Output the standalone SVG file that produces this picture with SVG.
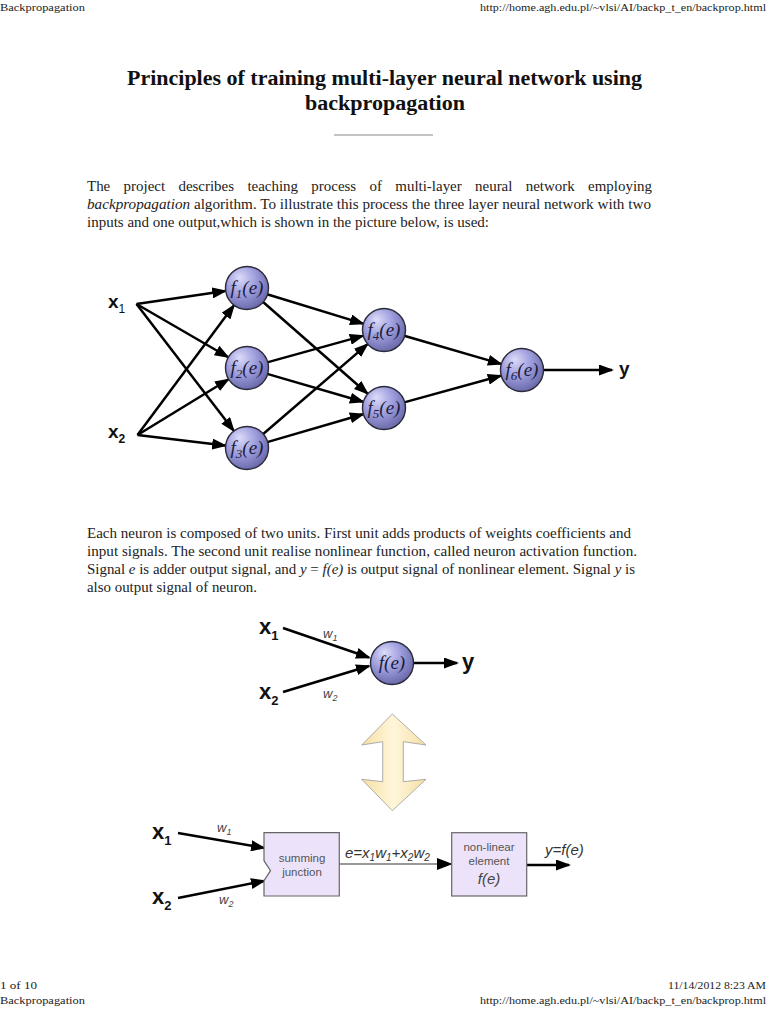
<svg xmlns="http://www.w3.org/2000/svg" width="768" height="1024" viewBox="0 0 768 1024">
<style>
.hd{font-family:"Liberation Serif",serif;font-size:11px;fill:#222;}
.ttl{font-family:"Liberation Serif",serif;font-size:20px;font-weight:bold;fill:#111;}
.body{font-family:"Liberation Serif",serif;font-size:14px;fill:#222;}
.it{font-style:italic;}
.xl{font-family:"Liberation Sans",Arial,sans-serif;font-weight:bold;font-size:22px;fill:#111;}
.xl1{font-family:"Liberation Sans",Arial,sans-serif;font-weight:bold;font-size:19px;fill:#111;}
.xs{font-size:12px;}
.xsb{font-size:13px;}
.fn{font-family:"Liberation Serif",serif;font-style:italic;font-size:19px;fill:#1c1c3c;}
.fs{font-size:13px;}
.neuron{fill:url(#ng);stroke:#2a2a3a;stroke-width:1.4;}
.edge{stroke:#000;stroke-width:2.5;fill:none;marker-end:url(#ah);}
.thin{stroke:#777;stroke-width:1.3;fill:none;marker-end:url(#ah2);}
.wl{font-family:"Liberation Sans",Arial,sans-serif;font-style:italic;font-size:13px;fill:#444;}
.ws{font-size:9px;}
.bx{fill:#ece3fa;stroke:#666;stroke-width:1.2;}
.bt{font-family:"Liberation Sans",Arial,sans-serif;font-size:11.5px;fill:#555;text-anchor:middle;}
.bf{font-family:"Liberation Sans",Arial,sans-serif;font-size:15px;font-style:italic;fill:#444;text-anchor:middle;}
.eq{font-family:"Liberation Sans",Arial,sans-serif;font-style:italic;font-size:15px;fill:#333;}
.es{font-size:10px;}
</style>
<defs>
<radialGradient id="ng" cx="40%" cy="35%" r="65%" fx="32%" fy="25%">
<stop offset="0" stop-color="#dcdcfa"/>
<stop offset="0.55" stop-color="#9c9cdc"/>
<stop offset="1" stop-color="#6c6cac"/>
</radialGradient>
<linearGradient id="yg" x1="0" y1="0" x2="1" y2="0">
<stop offset="0" stop-color="#f6dfa6"/>
<stop offset="0.5" stop-color="#fff6da"/>
<stop offset="1" stop-color="#f6dfa6"/>
</linearGradient>
<marker id="ah" markerUnits="userSpaceOnUse" markerWidth="15" markerHeight="11" refX="13" refY="5.5" orient="auto">
<path d="M0,0 L15,5.5 L0,11 z" fill="#000"/>
</marker>
<marker id="ah2" markerUnits="userSpaceOnUse" markerWidth="16" markerHeight="12" refX="15" refY="6" orient="auto">
<path d="M0,0 L16,6 L0,12 z" fill="#000"/>
</marker>
</defs>
<rect width="768" height="1024" fill="#fff"/>

<!-- page header / footer -->
<text class="hd" x="0" y="11" textLength="85" lengthAdjust="spacingAndGlyphs">Backpropagation</text>
<text class="hd" x="766" y="11" text-anchor="end" textLength="286" lengthAdjust="spacingAndGlyphs">http://home.agh.edu.pl/~vlsi/AI/backp_t_en/backprop.html</text>
<text class="hd" x="0" y="989" textLength="37" lengthAdjust="spacingAndGlyphs">1 of 10</text>
<text class="hd" x="766" y="989" text-anchor="end" textLength="98" lengthAdjust="spacingAndGlyphs">11/14/2012 8:23 AM</text>
<text class="hd" x="0" y="1004" textLength="85" lengthAdjust="spacingAndGlyphs">Backpropagation</text>
<text class="hd" x="766" y="1004" text-anchor="end" textLength="286" lengthAdjust="spacingAndGlyphs">http://home.agh.edu.pl/~vlsi/AI/backp_t_en/backprop.html</text>

<!-- title -->
<text class="ttl" x="127" y="85" textLength="515" lengthAdjust="spacingAndGlyphs">Principles of training multi-layer neural network using</text>
<text class="ttl" x="305" y="110" textLength="160" lengthAdjust="spacingAndGlyphs">backpropagation</text>
<line x1="334" y1="135" x2="433" y2="135" stroke="#888" stroke-width="1"/>

<!-- paragraph 1 -->
<text class="body" x="87" y="191" word-spacing="9" textLength="565" lengthAdjust="spacingAndGlyphs">The project describes teaching process of multi-layer neural network employing</text>
<text class="body" x="87" y="209" textLength="564" lengthAdjust="spacingAndGlyphs"><tspan class="it">backpropagation</tspan> algorithm. To illustrate this process the three layer neural network with two</text>
<text class="body" x="87" y="227" textLength="402" lengthAdjust="spacingAndGlyphs">inputs and one output,which is shown in the picture below, is used:</text>

<!-- paragraph 2 -->
<text class="body" x="87" y="538" textLength="544" lengthAdjust="spacingAndGlyphs">Each neuron is composed of two units. First unit adds products of weights coefficients and</text>
<text class="body" x="87" y="556" textLength="550" lengthAdjust="spacingAndGlyphs">input signals. The second unit realise nonlinear function, called neuron activation function.</text>
<text class="body" x="87" y="574" textLength="548" lengthAdjust="spacingAndGlyphs">Signal <tspan class="it">e</tspan> is adder output signal, and <tspan class="it">y</tspan> = <tspan class="it">f(e)</tspan> is output signal of nonlinear element. Signal <tspan class="it">y</tspan> is</text>
<text class="body" x="87" y="592" textLength="170" lengthAdjust="spacingAndGlyphs">also output signal of neuron.</text>

<!-- ===== Diagram 1: network ===== -->
<g id="net-connectors">
<line class="edge" x1="136.5" y1="304" x2="225.2" y2="291.1"/>
<line class="edge" x1="136.5" y1="304" x2="227.9" y2="357.0"/>
<line class="edge" x1="136.5" y1="304" x2="233.6" y2="430.6"/>
<line class="edge" x1="137.5" y1="435" x2="233.8" y2="305.6"/>
<line class="edge" x1="137.5" y1="435" x2="228.2" y2="379.5"/>
<line class="edge" x1="137.5" y1="435" x2="225.1" y2="445.6"/>
<line class="edge" x1="267.1" y1="294.2" x2="363.0" y2="323.6"/>
<line class="edge" x1="262.8" y1="301.8" x2="367.4" y2="393.5"/>
<line class="edge" x1="267.2" y1="362.4" x2="362.8" y2="335.9"/>
<line class="edge" x1="267.2" y1="373.9" x2="362.9" y2="401.8"/>
<line class="edge" x1="262.9" y1="434.3" x2="367.3" y2="344.4"/>
<line class="edge" x1="267.2" y1="442.1" x2="362.9" y2="414.2"/>
<line class="edge" x1="404.2" y1="335.8" x2="500.9" y2="363.9"/>
<line class="edge" x1="404.2" y1="402.4" x2="500.8" y2="375.8"/>
<line class="edge" x1="543.5" y1="370" x2="612" y2="370"/>
</g>
<g id="in-x1"><text class="xl1" x="108" y="308">x<tspan class="xs" font-weight="normal" dy="5">1</tspan></text></g>
<g id="in-x2"><text class="xl1" x="108" y="438">x<tspan class="xs" dy="5">2</tspan></text></g>
<g id="out-y"><text class="xl1" x="619" y="375">y</text></g>
<g id="f1"><circle class="neuron" cx="247" cy="288" r="21.5"/><text class="fn" x="247" y="294" text-anchor="middle">f<tspan class="fs" dy="4">1</tspan><tspan dy="-4">(e)</tspan></text></g>
<g id="f2"><circle class="neuron" cx="247" cy="368" r="21.5"/><text class="fn" x="247" y="374" text-anchor="middle">f<tspan class="fs" dy="4">2</tspan><tspan dy="-4">(e)</tspan></text></g>
<g id="f3"><circle class="neuron" cx="247" cy="448" r="21.5"/><text class="fn" x="247" y="454" text-anchor="middle">f<tspan class="fs" dy="4">3</tspan><tspan dy="-4">(e)</tspan></text></g>
<g id="f4"><circle class="neuron" cx="384" cy="330" r="21.5"/><text class="fn" x="384" y="336" text-anchor="middle">f<tspan class="fs" dy="4">4</tspan><tspan dy="-4">(e)</tspan></text></g>
<g id="f5"><circle class="neuron" cx="384" cy="408" r="21.5"/><text class="fn" x="384" y="414" text-anchor="middle">f<tspan class="fs" dy="4">5</tspan><tspan dy="-4">(e)</tspan></text></g>
<g id="f6"><circle class="neuron" cx="522" cy="370" r="21.5"/><text class="fn" x="522" y="376" text-anchor="middle">f<tspan class="fs" dy="4">6</tspan><tspan dy="-4">(e)</tspan></text></g>

<!-- ===== Diagram 2: single neuron ===== -->
<g id="neuron-connectors">
<line class="edge" x1="283" y1="628" x2="369" y2="657.5"/>
<line class="edge" x1="283" y1="692" x2="369" y2="666"/>
<line class="edge" x1="413.5" y1="663" x2="457" y2="663"/>
</g>
<g id="n-x1"><text class="xl" x="259" y="634">x<tspan class="xsb" dy="6">1</tspan></text></g>
<g id="n-x2"><text class="xl" x="259" y="699">x<tspan class="xsb" dy="6">2</tspan></text></g>
<g id="n-w"><text class="wl" x="323" y="638">w<tspan class="ws" dy="3">1</tspan></text><text class="wl" x="323" y="698">w<tspan class="ws" dy="3">2</tspan></text></g>
<g id="n-f"><circle class="neuron" cx="392" cy="663" r="21.5"/><text class="fn" x="392" y="669" text-anchor="middle">f(e)</text></g>
<g id="n-y"><text class="xl" x="462" y="669">y</text></g>

<!-- double arrow -->
<g id="equiv-arrow">
<polygon points="392.3,714 426,745 403.3,741.7 403.3,781.7 426,779.3 392.3,810.7 361.7,779.3 382.7,781.7 382.7,741.7 361.7,745" fill="url(#yg)" stroke="#999" stroke-width="0.8"/>
</g>

<!-- ===== Diagram 3: block model ===== -->
<g id="block-connectors">
<line class="edge" x1="178" y1="833" x2="264" y2="848"/>
<line class="edge" x1="178" y1="898" x2="264" y2="881"/>
<line class="thin" x1="339.3" y1="864" x2="451.7" y2="864"/>
<line class="edge" x1="526.7" y1="865" x2="569" y2="865"/>
</g>
<g id="b-x1"><text class="xl" x="152" y="839">x<tspan class="xsb" dy="6">1</tspan></text></g>
<g id="b-x2"><text class="xl" x="152" y="904">x<tspan class="xsb" dy="6">2</tspan></text></g>
<g id="b-w"><text class="wl" x="217" y="832">w<tspan class="ws" dy="3">1</tspan></text><text class="wl" x="219" y="904">w<tspan class="ws" dy="3">2</tspan></text></g>
<g id="summing">
<polygon class="bx" points="264,832.7 339.3,832.7 339.3,896 264,896 264,880.7 270.5,870.7 264,860.7"/>
<text class="bt" x="302" y="862">summing</text>
<text class="bt" x="302" y="876">junction</text>
</g>
<g id="sum-label"><text class="eq" x="345" y="858">e=x<tspan class="es" dy="3">1</tspan><tspan dy="-3">w</tspan><tspan class="es" dy="3">1</tspan><tspan dy="-3">+x</tspan><tspan class="es" dy="3">2</tspan><tspan dy="-3">w</tspan><tspan class="es" dy="3">2</tspan></text></g>
<g id="nonlinear">
<rect class="bx" x="451.7" y="832.7" width="75" height="63.3"/>
<text class="bt" x="489" y="851">non-linear</text>
<text class="bt" x="489" y="865">element</text>
<text class="bf" x="489" y="884">f(e)</text>
</g>
<g id="out-label"><text class="eq" x="545" y="855">y=f(e)</text></g>
</svg>
